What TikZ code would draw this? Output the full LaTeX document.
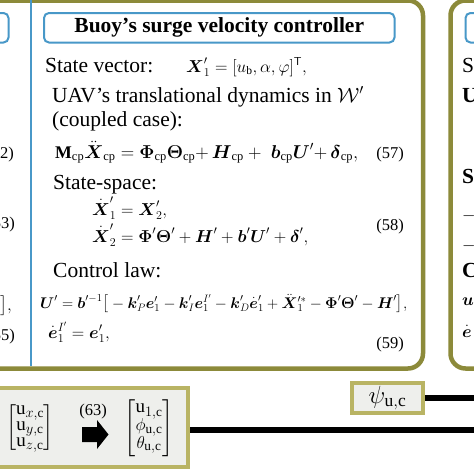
\documentclass[tikz,border=0pt]{standalone}
\usepackage{amsmath,amssymb}
\usepackage{graphicx}
\usepackage{fontspec}
\setmainfont{Liberation Serif}
\definecolor{olivebd}{RGB}{140,138,58}
\definecolor{hdrblue}{RGB}{72,152,200}
\definecolor{khakibd}{RGB}{185,180,100}
\definecolor{boxfill}{RGB}{238,239,236}
\begin{document}
\begin{tikzpicture}[x=1pt,y=-1pt,
  body/.style={font=\fontsize{21.5}{24}\selectfont, inner sep=0pt, anchor=base west},
  eqn/.style={font=\fontsize{16.5}{19}\selectfont, inner sep=0pt, anchor=base west},
  eqnum/.style={font=\fontsize{16.5}{19}\selectfont, inner sep=0pt, anchor=base east},
  panel/.style={draw=olivebd, line width=4.5pt, rounded corners=15pt},
  hdr/.style={draw=hdrblue, line width=2pt, rounded corners=5pt, fill=white},
  blockbox/.style={draw=khakibd, line width=4pt, fill=boxfill, inner sep=0pt},
  wire/.style={line width=5.5pt, black},
  mat/.style={font=\fontsize{19}{21}\selectfont, inner sep=0pt}]
\useasboundingbox (0,0) rectangle (474,474);
\clip (0,0) rectangle (474,474);
\fill[white] (0,0) rectangle (474,474);

% panels
\draw[panel] (-20,0.5) -- (423,0.5) -- (423,368.5) -- (-20,368.5);
\draw[panel] (500,0.5) -- (450.5,0.5) -- (450.5,368.5) -- (500,368.5);
\draw[hdrblue, line width=2pt] (30.5,-2) -- (30.5,366);

% headers
\draw[hdr] (-20,13) rectangle (8.5,42.5);
\node[hdr, minimum width=350.5, minimum height=29.5, inner sep=0pt,
      font=\fontsize{21.5}{24}\selectfont\bfseries] (hmid) at (219.25,27.75) {Buoy's surge velocity controller};
\draw[hdr] (465.5,13) rectangle (500,42.5);

% middle panel content
\node[body] (sv) at (45,72) {State vector:};
\node[eqn] (svm) at (186,72) {$\boldsymbol{X}_1'=[u_{\mathrm{b}},\alpha,\varphi]^{\mathsf{T}},$};
\node[body] (uav) at (52,102) {UAV's translational dynamics in $\mathcal{W}'$};
\node[body] (cc) at (52,126) {(coupled case):};
\node[eqn] (e57) at (55,158) {\resizebox{303pt}{!}{$\mathbf{M}_{\mathrm{cp}}\ddot{\boldsymbol{X}}_{\mathrm{cp}}=\boldsymbol{\Phi}_{\mathrm{cp}}\boldsymbol{\Theta}_{\mathrm{cp}}{+}\,\boldsymbol{H}_{\mathrm{cp}}+\;\boldsymbol{b}_{\mathrm{cp}}\boldsymbol{U}'{+}\,\boldsymbol{\delta}_{\mathrm{cp}},$}};
\node[eqnum] (n57) at (404,158) {(57)};
\node[body] (ss) at (53,189) {State-space:};
\node[eqn] (e58a) at (92,215) {$\dot{\boldsymbol{X}}_1'=\boldsymbol{X}_2',$};
\node[eqn] (e58b) at (92,242) {$\dot{\boldsymbol{X}}_2'=\boldsymbol{\Phi}'\boldsymbol{\Theta}'+\boldsymbol{H}'+\boldsymbol{b}'\boldsymbol{U}'+\boldsymbol{\delta}',$};
\node[eqnum] (n58) at (404,230) {(58)};
\node[body] (cl) at (53,277) {Control law:};
\node[eqn] (e59a) at (40,308) {\resizebox{367pt}{!}{$\boldsymbol{U}'=\boldsymbol{b}'^{-1}\big[-\boldsymbol{k}_P'\boldsymbol{e}_1'-\boldsymbol{k}_I'\boldsymbol{e}_1^{I'}-\boldsymbol{k}_D'\dot{\boldsymbol{e}}_1'+\ddot{\boldsymbol{X}}{}_1^{\prime *}-\boldsymbol{\Phi}'\boldsymbol{\Theta}'-\boldsymbol{H}'\big],$}};
\node[eqn] (e59b) at (48,338) {$\dot{\boldsymbol{e}}_1^{I'}=\boldsymbol{e}_1',$};
\node[eqnum] (n59) at (404,348) {(59)};

% left panel fragments
\node[eqnum] (n52) at (14,158) {(52)};
\node[eqnum] (n53) at (15,228) {(53)};
\node[eqnum] (brk) at (12,310) {$\big],$};
\node[eqnum] (n55) at (15,340) {(55)};

% right panel fragments
\node[body] (r1) at (462,72) {S};
\node[body] (r2) at (462,102) {\textbf{U}};
\node[body] (r3) at (462,183) {\textbf{S}};
\node[eqn] (r4) at (462,220) {$-$};
\node[eqn] (r5) at (462,250) {$-$};
\node[body] (r6) at (462,277) {\textbf{C}};
\node[eqn] (r7) at (462,305) {$\boldsymbol{u}$};
\node[eqn] (r8) at (462,337) {$\dot{\boldsymbol{e}}$};

% bottom blocks
\node[blockbox, minimum width=210, minimum height=79] (bbox) at (83,427.5) {};
\node[mat] (m1) at (30,428) {\renewcommand{\arraystretch}{0.72}$\begin{bmatrix}\mathrm{u}_{x,\mathrm{c}}\\ \mathrm{u}_{y,\mathrm{c}}\\ \mathrm{u}_{z,\mathrm{c}}\end{bmatrix}$};
\node[mat] (m2) at (149,428) {\renewcommand{\arraystretch}{0.72}$\begin{bmatrix}\mathrm{u}_{1,\mathrm{c}}\\ \phi_{\mathrm{u,c}}\\ \theta_{\mathrm{u,c}}\end{bmatrix}$};
\node[eqn, anchor=base] (n63) at (93,415) {(63)};
\fill[black] (82,427) -- (97,427) -- (97,420) -- (108.5,434.5) -- (97,449) -- (97,442) -- (82,442) -- cycle;

\node[blockbox, minimum width=71, minimum height=30, font=\fontsize{25}{27}\selectfont] (psi) at (387.5,398) {$\psi_{\mathrm{u,c}}$};

% connectors
\coordinate (pend) at (480,399);
\coordinate (bend) at (480,430);
\draw[wire] (psi.east) -- (psi.east -| pend);
\draw[wire] (bbox.east |- bend) -- (bend);
\end{tikzpicture}
\end{document}
